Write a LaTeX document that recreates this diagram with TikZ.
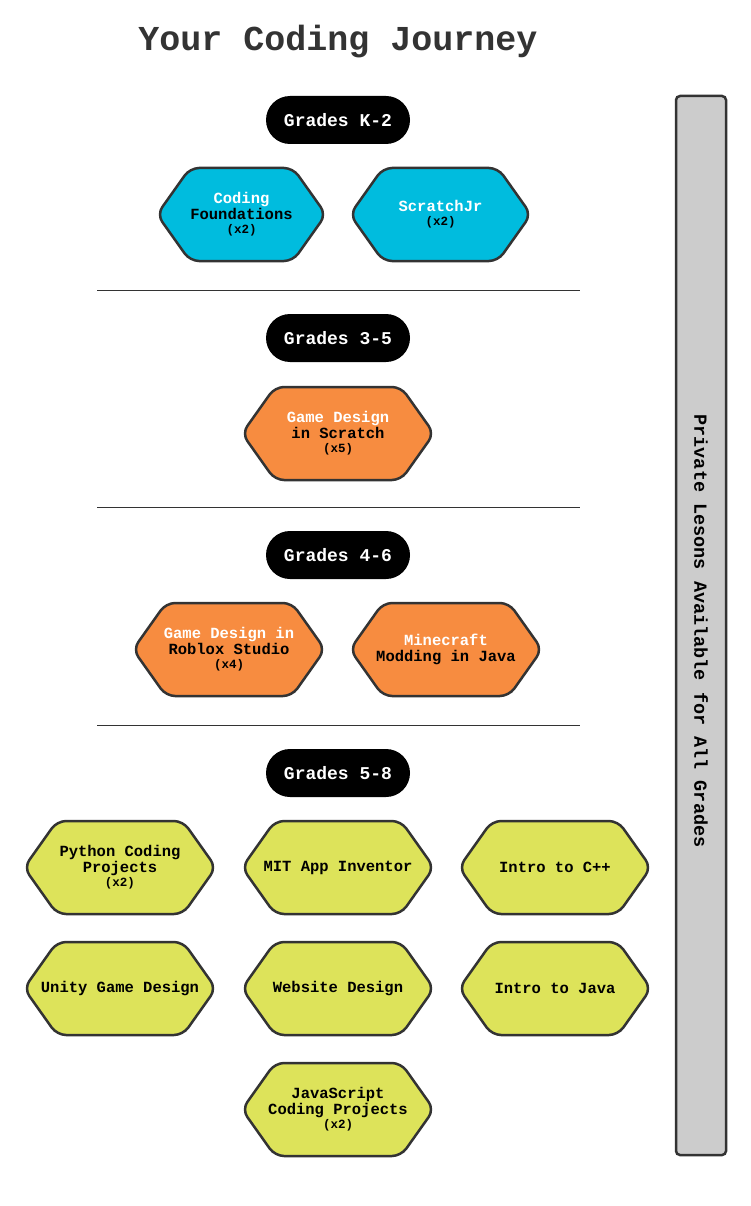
\documentclass[tikz,border=0pt]{standalone}
\usepackage{fontspec}
\setmonofont{Liberation Mono}
\definecolor{cy}{HTML}{00BCDE}
\definecolor{orn}{HTML}{F78C40}
\definecolor{yel}{HTML}{DDE35A}
\definecolor{edgec}{HTML}{333333}
\newcommand{\hexa}[6]{%
  \draw[fill=#5,draw=edgec,line width=2.5pt,rounded corners=9pt]
    ({#2-#4/2},#3) -- ({#2-#4/2+33},{#3-46.5}) -- ({#2+#4/2-33},{#3-46.5})
    -- ({#2+#4/2},#3) -- ({#2+#4/2-33},{#3+46.5}) -- ({#2-#4/2+33},{#3+46.5}) -- cycle;
  \node[hexlbl] (#1) at (#2,#3) {#6};}
\newcommand{\sm}[1]{\\[-2pt]{\fontsize{12.5}{12}\selectfont #1}}
\begin{document}
\begin{tikzpicture}[x=1pt,y=-1pt,
  pill/.style={fill=black,text=white,rounded corners=24pt,minimum width=144pt,minimum height=48pt,font=\ttfamily\bfseries\fontsize{18}{18}\selectfont},
  sep/.style={draw=black!80,line width=0.8pt},
  hexlbl/.style={align=center,font=\ttfamily\bfseries\fontsize{15.5}{16}\selectfont,inner sep=0pt}]
\useasboundingbox (0,0) rectangle (750,1206);
\node[font=\ttfamily\bfseries\fontsize{35}{35}\selectfont,text=edgec] (title) at (338,42) {Your Coding Journey};
\node[pill] (g1) at (338,120) {Grades K-2};
\node[pill] (g2) at (338,338) {Grades 3-5};
\node[pill] (g3) at (338,555) {Grades 4-6};
\node[pill] (g4) at (338,773) {Grades 5-8};
\coordinate (s1a) at (97,290); \coordinate (s1b) at (580,290);
\coordinate (s2a) at (97,507); \coordinate (s2b) at (580,507);
\coordinate (s3a) at (97,725); \coordinate (s3b) at (580,725);
\draw[sep] (s1a) -- (s1b); \draw[sep] (s2a) -- (s2b); \draw[sep] (s3a) -- (s3b);
\hexa{cf}{241.5}{214.5}{169}{cy}{\color{white}Coding\\Foundations\sm{(x2)}}
\hexa{sj}{440.5}{214.5}{181}{cy}{\color{white}ScratchJr\sm{(x2)}}
\hexa{gs}{338}{433.5}{192}{orn}{\color{white}Game Design\\in Scratch\sm{(x5)}}
\hexa{rb}{229}{649.5}{192}{orn}{\color{white}Game Design in\\Roblox Studio\sm{(x4)}}
\hexa{mc}{446}{649.5}{192}{orn}{\color{white}Minecraft\\Modding in Java}
\hexa{py}{120}{867.5}{192}{yel}{Python Coding\\Projects\sm{(x2)}}
\hexa{mit}{338}{867.5}{192}{yel}{MIT App Inventor}
\hexa{cpp}{555}{867.5}{192}{yel}{Intro to C++}
\hexa{un}{120}{988.5}{192}{yel}{Unity Game Design}
\hexa{web}{338}{988.5}{192}{yel}{Website Design}
\hexa{jv}{555}{988.5}{192}{yel}{Intro to Java}
\hexa{js}{338}{1109.5}{192}{yel}{JavaScript\\Coding Projects\sm{(x2)}}
\draw[fill=black!20,draw=edgec,line width=2.5pt,rounded corners=4pt] (676,96) rectangle (726,1155);
\node[rotate=-90,font=\ttfamily\bfseries\fontsize{18.5}{18}\selectfont] (pl) at (701,631) {Private Lesons Available for All Grades};
\end{tikzpicture}
\end{document}
